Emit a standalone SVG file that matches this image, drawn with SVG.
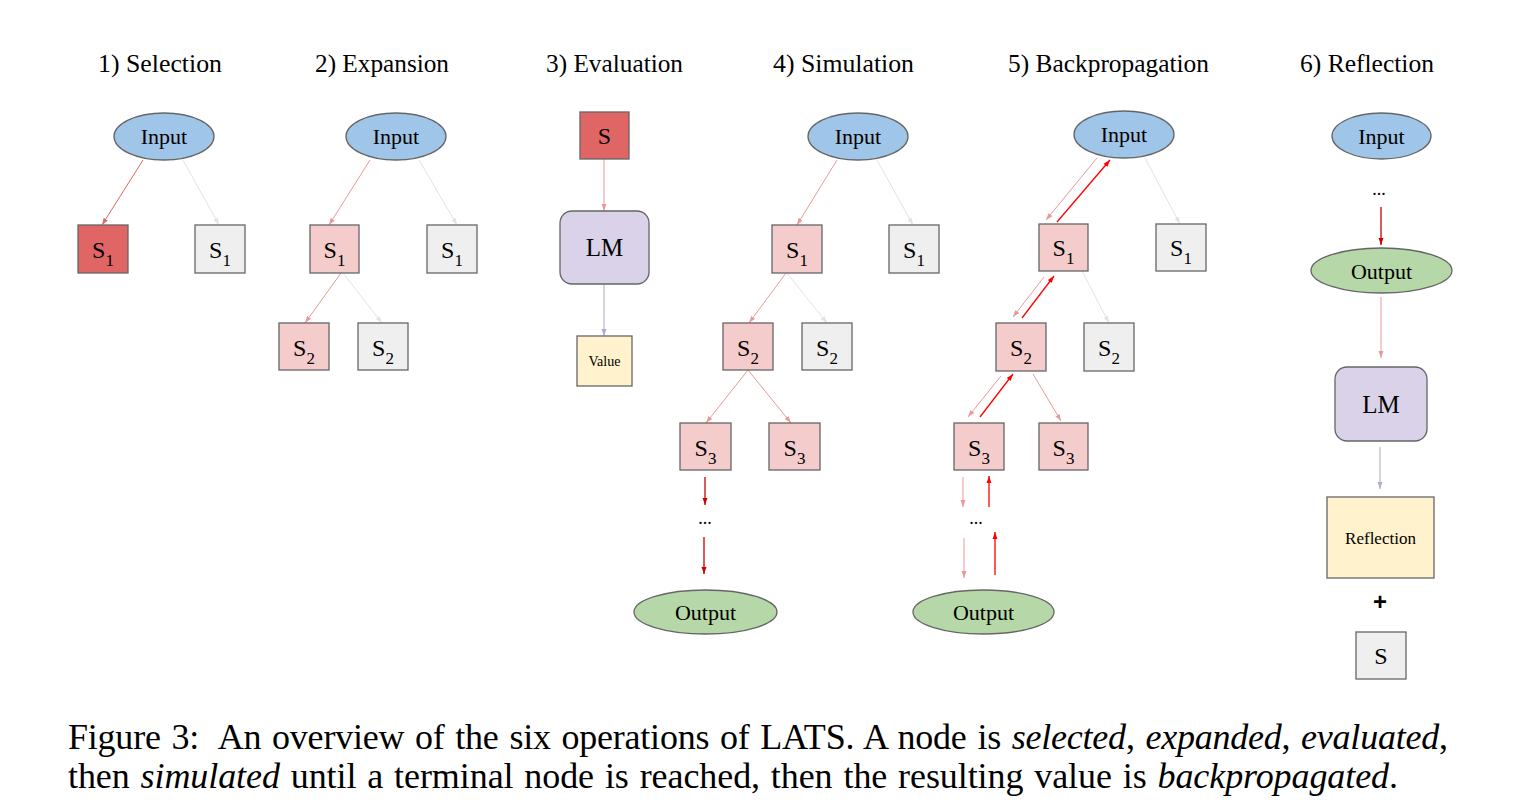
<svg xmlns="http://www.w3.org/2000/svg" width="1535" height="800" viewBox="0 0 1535 800">
<style>
  text { font-family: "Liberation Serif", "Times New Roman", serif; fill: #000; }
  .title { font-size: 26px; text-anchor: middle; }
  .lbl { font-size: 22px; text-anchor: middle; }
  .s { font-size: 24px; text-anchor: middle; }
  .sub { font-size: 17px; }
  .lm { font-size: 25px; text-anchor: middle; }
  .small { font-size: 14px; text-anchor: middle; }
  .refl { font-size: 17px; text-anchor: middle; }
  .dots { font-size: 18px; text-anchor: middle; }
  .plus { font-family: "Liberation Sans", Arial, sans-serif; font-size: 24px; font-weight: bold; text-anchor: middle; }
  .cap { font-size: 36px; }
  .it { font-style: italic; }
  .node { stroke: #666666; stroke-width: 1.3; }
  .inp { fill: #9fc5e8; }
  .out { fill: #b6d7a8; }
  .red { fill: #e06666; }
  .pink { fill: #f4cccc; }
  .gray { fill: #efefef; }
  .lmf { fill: #d9d2e9; }
  .yel { fill: #fff2cc; }
  .e { fill: none; stroke-width: 1; }
  .eSel { stroke: #e06666; marker-end: url(#mSel); }
  .ePink { stroke: #ea9999; marker-end: url(#mPink); }
  .eGray { stroke: #e3e3e3; marker-end: url(#mGray); }
  .eDark { stroke: #cc0000; stroke-width: 1.3; marker-end: url(#mDark); }
  .eRed { stroke: #ff0000; stroke-width: 1.3; marker-end: url(#mRed); }
  .ePur { stroke: #b4a7d6; marker-end: url(#mPur); }
</style>
<defs>
  <marker id="mSel" viewBox="0 0 10 10" refX="10" refY="5" markerUnits="userSpaceOnUse" markerWidth="7" markerHeight="7" orient="auto"><path d="M0,1.5 L10,5 L0,8.5 z" fill="#e06666"/></marker>
  <marker id="mPink" viewBox="0 0 10 10" refX="10" refY="5" markerUnits="userSpaceOnUse" markerWidth="7" markerHeight="7" orient="auto"><path d="M0,1.5 L10,5 L0,8.5 z" fill="#ea9999"/></marker>
  <marker id="mGray" viewBox="0 0 10 10" refX="10" refY="5" markerUnits="userSpaceOnUse" markerWidth="7" markerHeight="7" orient="auto"><path d="M0,1.5 L10,5 L0,8.5 z" fill="#e3e3e3"/></marker>
  <marker id="mDark" viewBox="0 0 10 10" refX="10" refY="5" markerUnits="userSpaceOnUse" markerWidth="7" markerHeight="7" orient="auto"><path d="M0,1.5 L10,5 L0,8.5 z" fill="#cc0000"/></marker>
  <marker id="mRed" viewBox="0 0 10 10" refX="10" refY="5" markerUnits="userSpaceOnUse" markerWidth="7" markerHeight="7" orient="auto"><path d="M0,1.5 L10,5 L0,8.5 z" fill="#ff0000"/></marker>
  <marker id="mPur" viewBox="0 0 10 10" refX="10" refY="5" markerUnits="userSpaceOnUse" markerWidth="7" markerHeight="7" orient="auto"><path d="M0,1.5 L10,5 L0,8.5 z" fill="#b4a7d6"/></marker>
</defs>
<rect width="1535" height="800" fill="#ffffff"/>

<g id="titles">
  <text class="title" x="160" y="72" textLength="124" lengthAdjust="spacingAndGlyphs">1) Selection</text>
  <text class="title" x="382" y="72" textLength="134" lengthAdjust="spacingAndGlyphs">2) Expansion</text>
  <text class="title" x="614.5" y="72" textLength="137" lengthAdjust="spacingAndGlyphs">3) Evaluation</text>
  <text class="title" x="843.5" y="72" textLength="141" lengthAdjust="spacingAndGlyphs">4) Simulation</text>
  <text class="title" x="1108.5" y="72" textLength="201" lengthAdjust="spacingAndGlyphs">5) Backpropagation</text>
  <text class="title" x="1367" y="72" textLength="134" lengthAdjust="spacingAndGlyphs">6) Reflection</text>
</g>

<g id="connectors">
  <!-- 1 Selection -->
  <line class="e eSel" x1="143" y1="160" x2="102" y2="225"/>
  <line class="e eGray" x1="183" y1="160" x2="219" y2="225"/>
  <!-- 2 Expansion -->
  <line class="e ePink" x1="370" y1="160" x2="329" y2="225"/>
  <line class="e eGray" x1="419" y1="160" x2="457" y2="225"/>
  <line class="e ePink" x1="341" y1="273" x2="305" y2="323"/>
  <line class="e eGray" x1="343" y1="273" x2="382" y2="323"/>
  <!-- 3 Evaluation -->
  <line class="e ePink" x1="604" y1="159" x2="604" y2="211"/>
  <line class="e ePur" x1="604" y1="284" x2="604" y2="336"/>
  <!-- 4 Simulation -->
  <line class="e ePink" x1="837" y1="160" x2="797" y2="225"/>
  <line class="e eGray" x1="877" y1="160" x2="913" y2="225"/>
  <line class="e ePink" x1="786" y1="273" x2="749" y2="323"/>
  <line class="e eGray" x1="787" y1="273" x2="827" y2="323"/>
  <line class="e ePink" x1="748" y1="370" x2="706" y2="423"/>
  <line class="e ePink" x1="748" y1="370" x2="791" y2="423"/>
  <line class="e eDark" x1="705" y1="477" x2="705" y2="505"/>
  <line class="e eDark" x1="704" y1="537" x2="704" y2="574"/>
  <!-- 5 Backpropagation -->
  <line class="e ePink" x1="1097" y1="158" x2="1046" y2="220"/>
  <line class="e eRed" x1="1057" y1="222" x2="1110" y2="160"/>
  <line class="e eGray" x1="1145" y1="158" x2="1180" y2="224"/>
  <line class="e ePink" x1="1044" y1="277" x2="1013" y2="317"/>
  <line class="e eRed" x1="1022" y1="318" x2="1054" y2="276"/>
  <line class="e eGray" x1="1082" y1="271" x2="1109" y2="323"/>
  <line class="e ePink" x1="1001" y1="376" x2="968" y2="417"/>
  <line class="e eRed" x1="980" y1="417" x2="1013" y2="374"/>
  <line class="e ePink" x1="1033" y1="374" x2="1061" y2="421"/>
  <line class="e ePink" x1="963" y1="477" x2="963" y2="507"/>
  <line class="e eRed" x1="989" y1="507" x2="989" y2="476"/>
  <line class="e ePink" x1="964" y1="538" x2="964" y2="578"/>
  <line class="e eRed" x1="995" y1="575" x2="995" y2="532"/>
  <!-- 6 Reflection -->
  <line class="e eDark" x1="1381" y1="207" x2="1381" y2="245"/>
  <line class="e ePink" x1="1381" y1="297" x2="1381" y2="358"/>
  <line class="e ePur" x1="1380" y1="447" x2="1380" y2="489"/>
</g>

<!-- 1) Selection -->
<g id="sel-input"><ellipse class="node inp" cx="164" cy="136.5" rx="50" ry="23.5"/><text class="lbl" x="164" y="144">Input</text></g>
<g id="sel-s1a"><rect class="node red" x="78" y="225" width="50" height="48"/><text class="s" x="103" y="258">S<tspan class="sub" dy="8">1</tspan></text></g>
<g id="sel-s1b"><rect class="node gray" x="195" y="225" width="50" height="48"/><text class="s" x="220" y="258">S<tspan class="sub" dy="8">1</tspan></text></g>

<!-- 2) Expansion -->
<g id="exp-input"><ellipse class="node inp" cx="396" cy="136.5" rx="50" ry="23.5"/><text class="lbl" x="396" y="144">Input</text></g>
<g id="exp-s1a"><rect class="node pink" x="310" y="225" width="49" height="48"/><text class="s" x="334.5" y="258">S<tspan class="sub" dy="8">1</tspan></text></g>
<g id="exp-s1b"><rect class="node gray" x="427" y="225" width="50" height="48"/><text class="s" x="452" y="258">S<tspan class="sub" dy="8">1</tspan></text></g>
<g id="exp-s2a"><rect class="node pink" x="279" y="323" width="50" height="47"/><text class="s" x="304" y="356">S<tspan class="sub" dy="8">2</tspan></text></g>
<g id="exp-s2b"><rect class="node gray" x="358" y="323" width="50" height="47"/><text class="s" x="383" y="356">S<tspan class="sub" dy="8">2</tspan></text></g>

<!-- 3) Evaluation -->
<g id="eval-s"><rect class="node red" x="580" y="112" width="49" height="47"/><text class="s" x="604.5" y="144">S</text></g>
<g id="eval-lm"><rect class="node lmf" x="560" y="211" width="89" height="73" rx="12"/><text class="lm" x="604.5" y="256">LM</text></g>
<g id="eval-value"><rect class="node yel" x="577" y="336" width="55" height="50"/><text class="small" x="604.5" y="366">Value</text></g>

<!-- 4) Simulation -->
<g id="sim-input"><ellipse class="node inp" cx="858" cy="136.5" rx="50" ry="23.5"/><text class="lbl" x="858" y="144">Input</text></g>
<g id="sim-s1a"><rect class="node pink" x="772" y="225" width="50" height="48"/><text class="s" x="797" y="258">S<tspan class="sub" dy="8">1</tspan></text></g>
<g id="sim-s1b"><rect class="node gray" x="889" y="225" width="50" height="48"/><text class="s" x="914" y="258">S<tspan class="sub" dy="8">1</tspan></text></g>
<g id="sim-s2a"><rect class="node pink" x="723" y="323" width="50" height="47"/><text class="s" x="748" y="356">S<tspan class="sub" dy="8">2</tspan></text></g>
<g id="sim-s2b"><rect class="node gray" x="802" y="323" width="50" height="47"/><text class="s" x="827" y="356">S<tspan class="sub" dy="8">2</tspan></text></g>
<g id="sim-s3a"><rect class="node pink" x="680" y="423" width="51" height="47"/><text class="s" x="705.5" y="456">S<tspan class="sub" dy="8">3</tspan></text></g>
<g id="sim-s3b"><rect class="node pink" x="769" y="423" width="51" height="47"/><text class="s" x="794.5" y="456">S<tspan class="sub" dy="8">3</tspan></text></g>
<g id="sim-dots"><text class="dots" x="705" y="524">...</text></g>
<g id="sim-output"><ellipse class="node out" cx="705.5" cy="612" rx="71.5" ry="22"/><text class="lbl" x="705.5" y="620">Output</text></g>

<!-- 5) Backpropagation -->
<g id="bp-input"><ellipse class="node inp" cx="1124" cy="134.5" rx="50" ry="23.5"/><text class="lbl" x="1124" y="142">Input</text></g>
<g id="bp-s1a"><rect class="node pink" x="1039" y="224" width="49" height="47"/><text class="s" x="1063.5" y="256">S<tspan class="sub" dy="8">1</tspan></text></g>
<g id="bp-s1b"><rect class="node gray" x="1156" y="224" width="50" height="47"/><text class="s" x="1181" y="256">S<tspan class="sub" dy="8">1</tspan></text></g>
<g id="bp-s2a"><rect class="node pink" x="996" y="323" width="50" height="48"/><text class="s" x="1021" y="356">S<tspan class="sub" dy="8">2</tspan></text></g>
<g id="bp-s2b"><rect class="node gray" x="1084" y="323" width="50" height="48"/><text class="s" x="1109" y="356">S<tspan class="sub" dy="8">2</tspan></text></g>
<g id="bp-s3a"><rect class="node pink" x="954" y="423" width="50" height="47"/><text class="s" x="979" y="456">S<tspan class="sub" dy="8">3</tspan></text></g>
<g id="bp-s3b"><rect class="node pink" x="1039" y="423" width="49" height="47"/><text class="s" x="1063.5" y="456">S<tspan class="sub" dy="8">3</tspan></text></g>
<g id="bp-dots"><text class="dots" x="976" y="524">...</text></g>
<g id="bp-output"><ellipse class="node out" cx="983.5" cy="612" rx="70.5" ry="22"/><text class="lbl" x="983.5" y="620">Output</text></g>

<!-- 6) Reflection -->
<g id="ref-input"><ellipse class="node inp" cx="1381.5" cy="136" rx="49.5" ry="23"/><text class="lbl" x="1381.5" y="143.5">Input</text></g>
<g id="ref-dots"><text class="dots" x="1379" y="195">...</text></g>
<g id="ref-output"><ellipse class="node out" cx="1381.5" cy="270.5" rx="70.5" ry="22.5"/><text class="lbl" x="1381.5" y="278.5">Output</text></g>
<g id="ref-lm"><rect class="node lmf" x="1335" y="367" width="92" height="74" rx="12"/><text class="lm" x="1381" y="413">LM</text></g>
<g id="ref-reflection"><rect class="node yel" x="1327" y="497" width="107" height="81"/><text class="refl" x="1380.5" y="543.5">Reflection</text></g>
<g id="ref-plus"><text class="plus" x="1380" y="610">+</text></g>
<g id="ref-s"><rect class="node gray" x="1356" y="632" width="50" height="47"/><text class="s" x="1381" y="664">S</text></g>

<g id="caption">
  <text class="cap" x="68" y="749" textLength="1380" word-spacing="2">Figure 3: <tspan dx="10">An</tspan> overview of the six operations of LATS. A node is <tspan class="it">selected</tspan>, <tspan class="it">expanded</tspan>, <tspan class="it">evaluated</tspan>,</text>
  <text class="cap" x="68" y="788" textLength="1330" word-spacing="2">then <tspan class="it">simulated</tspan> until a terminal node is reached, then the resulting value is <tspan class="it">backpropagated</tspan>.</text>
</g>
</svg>
